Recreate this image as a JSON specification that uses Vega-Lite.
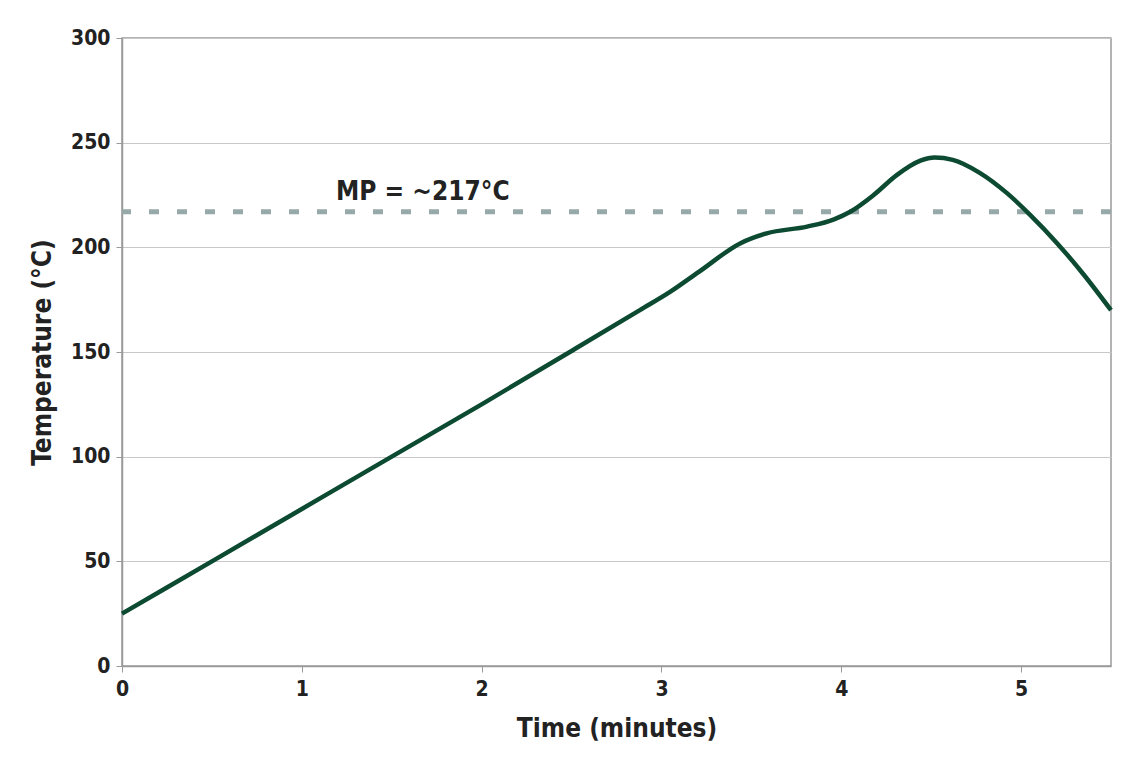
{
  "$schema": "https://vega.github.io/schema/vega-lite/v6.json",
  "width": 989,
  "height": 628,
  "autosize": {"type": "none"},
  "padding": {"left": 122, "top": 38, "right": 21, "bottom": 102},
  "background": "white",
  "config": {
    "view": {"stroke": "#9a9a9a", "strokeWidth": 1.5},
    "font": "DejaVu Sans Condensed, sans-serif"
  },
  "datasets": {
    "curve": [
      {"t": 0, "v": 25},
      {"t": 0.5, "v": 50},
      {"t": 1, "v": 75},
      {"t": 1.5, "v": 100},
      {"t": 2, "v": 125},
      {"t": 2.5, "v": 150.5},
      {"t": 2.88, "v": 170},
      {"t": 3.05, "v": 178.8},
      {"t": 3.21, "v": 188.4},
      {"t": 3.44, "v": 202},
      {"t": 3.585, "v": 206.7},
      {"t": 3.81, "v": 209.9},
      {"t": 3.96, "v": 213.4},
      {"t": 4.05, "v": 217},
      {"t": 4.18, "v": 225},
      {"t": 4.31, "v": 234.6},
      {"t": 4.44, "v": 241.4},
      {"t": 4.52, "v": 242.9},
      {"t": 4.62, "v": 241.8},
      {"t": 4.77, "v": 235.6},
      {"t": 4.92, "v": 226},
      {"t": 5.05, "v": 215.5},
      {"t": 5.2, "v": 202},
      {"t": 5.35, "v": 186.8},
      {"t": 5.5, "v": 170}
    ],
    "mp": [{"v": 217}],
    "label": [{"t": 1.19, "v": 217, "text": "MP = ~217°C"}]
  },
  "layer": [
    {
      "data": {"name": "mp"},
      "mark": {"type": "rule", "color": "#97a8a8", "strokeWidth": 5, "strokeDash": [10, 18]},
      "encoding": {
        "y": {"field": "v", "type": "quantitative", "scale": {"domain": [0, 300]}}
      }
    },
    {
      "data": {"name": "label"},
      "mark": {"type": "text", "align": "left", "baseline": "alphabetic", "dy": -12, "fontSize": 26, "fontWeight": "bold", "color": "#222222"},
      "encoding": {
        "x": {"field": "t", "type": "quantitative"},
        "y": {"field": "v", "type": "quantitative"},
        "text": {"field": "text"}
      }
    },
    {
      "data": {"name": "curve"},
      "mark": {"type": "line", "color": "#0c4a32", "strokeWidth": 4.5, "interpolate": "monotone"},
      "encoding": {
        "x": {
          "field": "t", "type": "quantitative",
          "scale": {"domain": [0, 5.5], "nice": false},
          "axis": {
            "title": "Time (minutes)", "values": [0, 1, 2, 3, 4, 5], "format": "d", "labelFlush": false, "grid": false,
            "domainColor": "#9a9a9a", "domainWidth": 1.5, "tickColor": "#9a9a9a", "tickSize": 6,
            "labelFontSize": 21, "labelFontWeight": "bold", "labelColor": "#222222", "labelPadding": 6,
            "titleFontSize": 26, "titleFontWeight": "bold", "titleColor": "#222222", "titlePadding": 16
          }
        },
        "y": {
          "field": "v", "type": "quantitative",
          "scale": {"domain": [0, 300], "nice": false},
          "axis": {
            "title": "Temperature (°C)", "values": [0, 50, 100, 150, 200, 250, 300],
            "grid": true, "gridColor": "#c8c8c8", "gridWidth": 1,
            "domainColor": "#9a9a9a", "domainWidth": 1.5, "tickColor": "#9a9a9a", "tickSize": 6,
            "labelFontSize": 21, "labelFontWeight": "bold", "labelColor": "#222222", "labelPadding": 6,
            "titleFontSize": 26, "titleFontWeight": "bold", "titleColor": "#222222", "titlePadding": 15
          }
        }
      }
    }
  ]
}
